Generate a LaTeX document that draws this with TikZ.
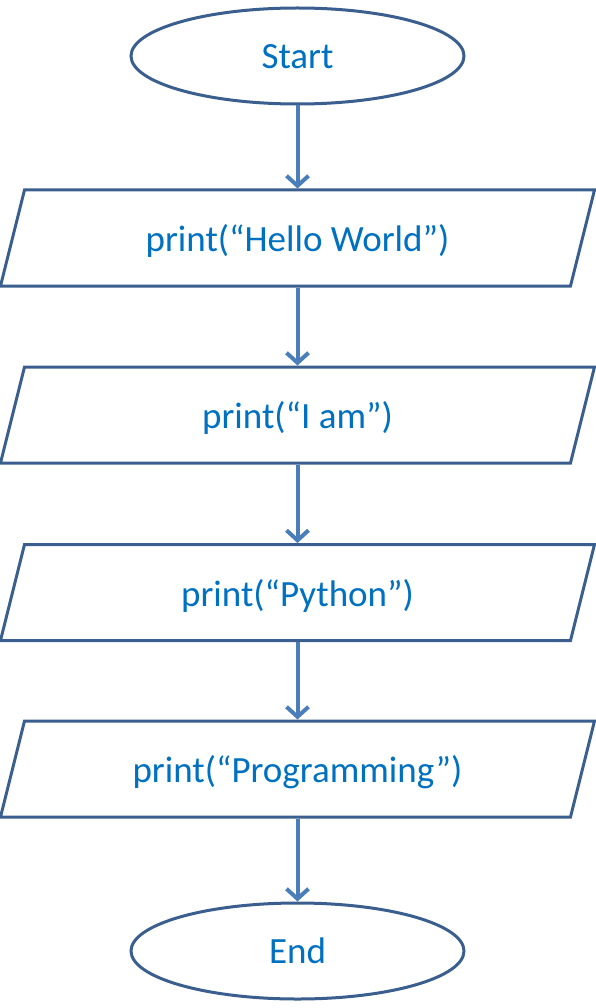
\documentclass[tikz,border=0pt]{standalone}
\usepackage{fontspec}
\setmainfont{Carlito}
\usetikzlibrary{shapes.geometric,positioning,arrows.meta}
\definecolor{edgeblue}{HTML}{3A5F8E}
\definecolor{flowblue}{HTML}{4A7EBB}
\definecolor{textblue}{HTML}{0070C0}
\begin{document}
\begin{tikzpicture}[x=1pt,y=-1pt,
		terminal/.style={ellipse,draw=edgeblue,line width=3pt,fill=white,
			minimum width=333pt,minimum height=96pt,inner sep=0pt,text depth=0pt,
			text=textblue,font=\fontsize{37}{44}\selectfont},
		io/.style={rectangle,minimum width=567pt,minimum height=96pt,
			inner sep=0pt,outer sep=1.5pt,text depth=0pt,
			text=textblue,font=\fontsize{37}{44}\selectfont},
		slant/.style={draw=edgeblue,line width=3pt,line join=miter},
		flow/.style={draw=flowblue,line width=4pt,
			-{Straight Barb[length=10pt,width=22pt,line width=4pt]}}]
		\useasboundingbox (0,0) rectangle (595,1008);
		% shapes
		\node[terminal] (start) at (297.5,56) {Start};
		\node[io] (hello) at (297.5,238) {print(“Hello World”)};
		\node[io] (iam) at (297.5,415) {print(“I am”)};
		\node[io] (python) at (297.5,592.5) {print(“Python”)};
		\node[io] (prog) at (297.5,769) {print(“Programming”)};
		\node[terminal] (end) at (297.5,951) {End};
		\foreach \n in {hello,iam,python,prog}
			\draw[slant] ([xshift=12pt,yshift=-1.5pt]\n.north west)
				-- ([xshift=12pt,yshift=-1.5pt]\n.north east)
				-- ([xshift=-12pt,yshift=1.5pt]\n.south east)
				-- ([xshift=-12pt,yshift=1.5pt]\n.south west) -- cycle;
		% arrows
		\foreach \a/\b in {start/hello,hello/iam,iam/python,python/prog,prog/end}
			\draw[flow] (\a) -- (\b);
	\end{tikzpicture}
\end{document}
